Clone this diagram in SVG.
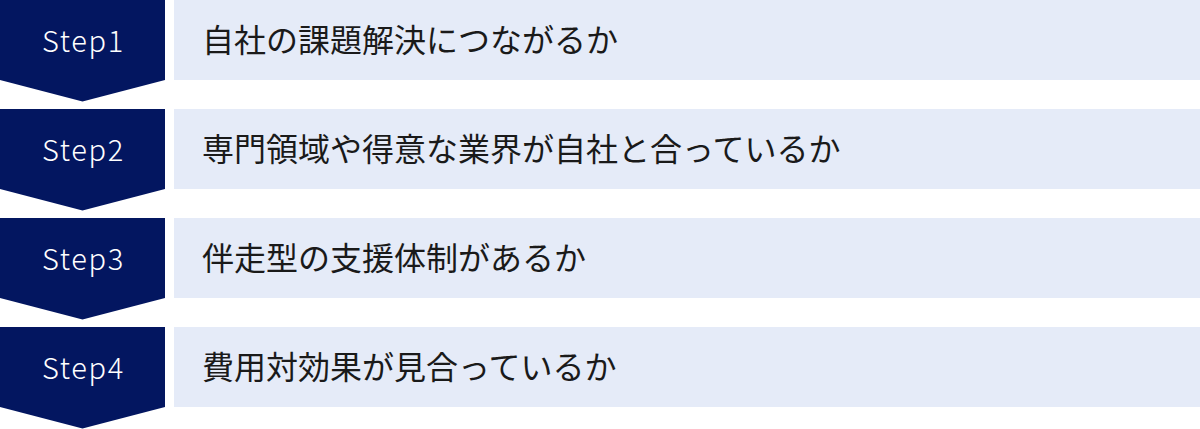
<svg xmlns="http://www.w3.org/2000/svg" width="1200" height="429" viewBox="0 0 1200 429">
<style>
.step{fill:#031660}
.box{fill:#e5ebf8}
.lbl{font-family:"Noto Sans CJK JP","Noto Sans",sans-serif;font-size:29px;font-weight:300;fill:#ffffff;text-anchor:middle;letter-spacing:1.7px}
.txt{font-family:"Noto Sans CJK JP","Noto Sans",sans-serif;font-size:32px;fill:#1a1a1a}
</style>
<rect width="1200" height="429" fill="#ffffff"/>
<g id="step1">
<polygon class="step" points="0,0 165,0 165,80 82.5,101.5 0,80"/>
<text class="lbl" x="83.5" y="52">Step1</text>
<rect class="box" x="174" y="0" width="1026" height="80"/>
<text class="txt" x="202" y="51.5">自社の課題解決につながるか</text>
</g>
<g id="step2">
<polygon class="step" points="0,109 165,109 165,189 82.5,210.5 0,189"/>
<text class="lbl" x="83.5" y="161">Step2</text>
<rect class="box" x="174" y="109" width="1026" height="80"/>
<text class="txt" x="202" y="160.5">専門領域や得意な業界が自社と合っているか</text>
</g>
<g id="step3">
<polygon class="step" points="0,218 165,218 165,298 82.5,319.5 0,298"/>
<text class="lbl" x="83.5" y="270">Step3</text>
<rect class="box" x="174" y="218" width="1026" height="80"/>
<text class="txt" x="202" y="269.5">伴走型の支援体制があるか</text>
</g>
<g id="step4">
<polygon class="step" points="0,327 165,327 165,407 82.5,428.5 0,407"/>
<text class="lbl" x="83.5" y="379">Step4</text>
<rect class="box" x="174" y="327" width="1026" height="80"/>
<text class="txt" x="202" y="378.5">費用対効果が見合っているか</text>
</g>
<g id="connectors"></g>
</svg>
